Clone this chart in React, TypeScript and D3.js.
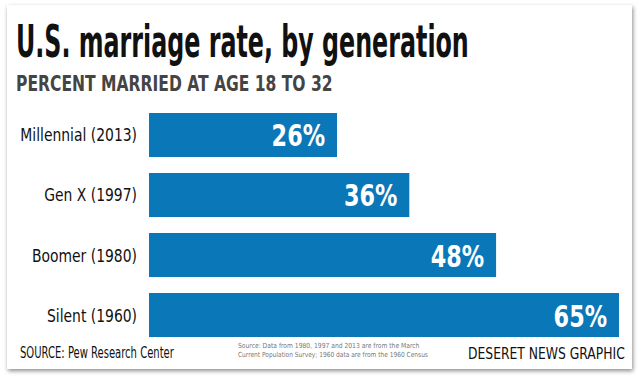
import React, { useLayoutEffect, useRef, useState } from "react";
import * as d3 from "d3";

const categories = ["Millennial (2013)", "Gen X (1997)", "Boomer (1980)", "Silent (1960)"];
const values = [26, 36, 48, 65];
const title = "U.S. marriage rate, by generation";
const subtitle = "PERCENT MARRIED AT AGE 18 TO 32";
const sourceText = "SOURCE: Pew Research Center";
const noteLines = [
  "Source: Data from 1980, 1997 and 2013 are from the March",
  "Current Population Survey; 1960 data are from the 1960 Census",
];
const creditText = "DESERET NEWS GRAPHIC";

const W = 640;
const H = 380;
const BLUE = "#0a77b8";
const COND = "'DejaVu Sans Condensed', 'DejaVu Sans', sans-serif";

function FitText(props: any) {
  const { x, y, width, children, ...rest } = props;
  const ref = useRef<SVGTextElement>(null);
  const [s, setS] = useState(1);
  useLayoutEffect(() => {
    if (ref.current) {
      const w = ref.current.getComputedTextLength();
      if (w > 0) setS(width / w);
    }
  }, [width]);
  return (
    <text ref={ref} transform={`translate(${x},${y}) scale(${s},1)`} {...rest}>
      {children}
    </text>
  );
}

export default function App() {
  const x = d3.scaleLinear().domain([0, d3.max(values) as number]).range([149, 619]);
  const y = d3.scaleBand<string>().domain(categories).range([113, 337]).paddingInner(0.2667).paddingOuter(0);

  return (
    <svg width={W} height={H} style={{ position: "absolute", left: 0, top: 0, display: "block" }}>
      <defs>
        <filter id="sh" x="-5%" y="-5%" width="110%" height="115%">
          <feDropShadow dx="1" dy="2" stdDeviation="2" floodColor="#000" floodOpacity="0.45" />
        </filter>
      </defs>
      <rect x={0} y={0} width={W} height={H} fill="#fff" />
      <rect x={7} y={5} width={625} height={364} fill="#fff" filter="url(#sh)" />
      <FitText x={16} y={57} width={453} fontFamily={COND} fontWeight="bold" fontSize={45} fill="#111">{title}</FitText>
      <FitText x={16} y={91} width={317} fontFamily={COND} fontWeight="bold" fontSize={22} fill="#444">{subtitle}</FitText>
      {categories.map((c, i) => {
        const yy = y(c) as number;
        const bh = y.bandwidth();
        return (
          <g key={c}>
            <rect x={x(0)} y={yy} width={x(values[i]) - x(0)} height={bh} fill={BLUE} />
            <text transform={`translate(137,${yy + bh / 2 + 6.5}) scale(0.86,1)`} textAnchor="end"
              fontFamily={COND} fontSize={18} fill="#111">{c}</text>
            <text transform={`translate(${x(values[i]) - 12},${yy + bh / 2 + 11.5}) scale(0.8,1)`}
              textAnchor="end" fontFamily={COND} fontWeight="bold" fontSize={31} fill="#fff">{values[i]}%</text>
          </g>
        );
      })}
      <FitText x={20} y={358} width={154} fontFamily={COND} fontSize={15} fill="#111">{sourceText}</FitText>
      {noteLines.map((l, i) => (
        <FitText key={i} x={238} y={348 + i * 9} width={i === 0 ? 182 : 190}
          fontFamily="'DejaVu Sans', sans-serif" fontSize={7} fill="#777">{l}</FitText>
      ))}
      <FitText x={468} y={359} width={157} fontFamily={COND} fontSize={15.5} fill="#111">{creditText}</FitText>
    </svg>
  );
}
